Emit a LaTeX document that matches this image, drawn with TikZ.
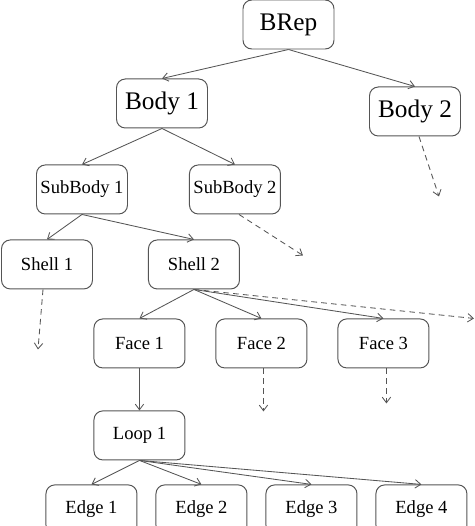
\documentclass[tikz,border=0pt]{standalone}
\usepackage{fontspec}
\setmainfont{Liberation Serif}
\usetikzlibrary{positioning, arrows.meta}
\definecolor{my_gray}{RGB}{85, 85, 85}
\tikzset {
  box/.style = {draw=my_gray, line width=0.7pt, rounded corners=0.22cm, rectangle, minimum width=2.275cm, minimum height=1.225cm, inner sep=1pt, font=\fontsize{13.2}{15}\selectfont},
  bigbox/.style = {box, font=\fontsize{18}{20}\selectfont},
  line/.style = {-{Straight Barb[length=4pt, width=6pt]}, line width=0.6pt, color=my_gray},
  dashline/.style = {line, dash pattern=on 4pt off 3pt}
}

\begin{document}
\begin{tikzpicture}
    \useasboundingbox (0,0) rectangle (11.85,-13.15);

    \node[bigbox, name=brep] at (7.2125,-0.6125) (brep) {BRep};
    \node[bigbox, name=body1, below=0.725cm of brep, xshift=-3.1625cm] (body1) {Body 1};
    \node[bigbox, name=body2, below=0.925cm of brep, xshift=3.1625cm] (body2) {Body 2};
    \node[box, name=sub1, below=0.9cm of body1, xshift=-2cm] (sub1) {SubBody 1};
    \node[box, name=sub2, right=1.525cm of sub1] (sub2) {SubBody 2};
    \node[box, name=shell1, below=0.625cm of sub1, xshift=-0.875cm] (shell1) {Shell 1};
    \node[box, name=shell2, right=1.375cm of shell1] (shell2) {Shell 2};
    \node[box, name=face1, below=0.725cm of shell2, xshift=-1.3625cm] (face1) {Face 1};
    \node[box, name=face2, right=0.75cm of face1] (face2) {Face 2};
    \node[box, name=face3, right=0.75cm of face2] (face3) {Face 3};
    \node[box, name=loop1, below=1.05cm of face1] (loop1) {Loop 1};
    \node[box, name=edge1, below=0.6cm of loop1, xshift=-1.2cm] (edge1) {Edge 1};
    \node[box, name=edge2, right=0.45cm of edge1] (edge2) {Edge 2};
    \node[box, name=edge3, right=0.45cm of edge2] (edge3) {Edge 3};
    \node[box, name=edge4, right=0.45cm of edge3] (edge4) {Edge 4};

    % loose ends of the dashed arrows
    \coordinate[below=1.5cm of body2, xshift=0.6cm] (body2end);
    \coordinate[below=1.025cm of sub2, xshift=1.7cm] (sub2end);
    \coordinate[below=1.5cm of shell1, xshift=-0.225cm] (shell1end);
    \coordinate[below=0.725cm of shell2, xshift=7cm] (shell2end);
    \coordinate[below=1.075cm of face2, xshift=0.05cm] (face2end);
    \coordinate[below=0.875cm of face3, xshift=0.075cm] (face3end);

    \draw[line] (brep.south) -- (body1.north);
    \draw[line] (brep.south) -- (body2.north);
    \draw[line] (body1.south) -- (sub1.north);
    \draw[line] (body1.south) -- (sub2.north);
    \draw[line] (sub1.south) -- (shell1.north);
    \draw[line] (sub1.south) -- (shell2.north);
    \draw[line] (shell2.south) -- (face1.north);
    \draw[line] (shell2.south) -- (face2.north);
    \draw[line] (shell2.south) -- (face3.north);
    \draw[line] (face1.south) -- (loop1.north);
    \draw[line] (loop1.south) -- (edge1.north);
    \draw[line] (loop1.south) -- (edge2.north);
    \draw[line] (loop1.south) -- (edge3.north);
    \draw[line] (loop1.south) -- (edge4.north);

    \draw[dashline] ([xshift=0.1cm]body2.south) -- (body2end);
    \draw[dashline] ([xshift=0.1cm]sub2.south) -- (sub2end);
    \draw[dashline] ([xshift=-0.1cm]shell1.south) -- (shell1end);
    \draw[dashline] (shell2.south) -- (shell2end);
    \draw[dashline] ([xshift=0.05cm]face2.south) -- (face2end);
    \draw[dashline] ([xshift=0.075cm]face3.south) -- (face3end);

  \end{tikzpicture}
\end{document}
